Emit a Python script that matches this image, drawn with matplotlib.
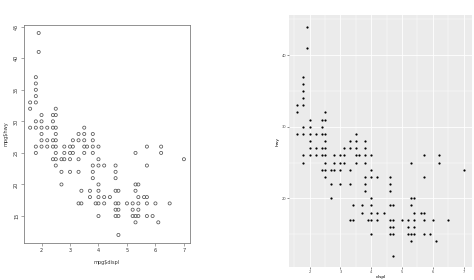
import matplotlib
matplotlib.use("Agg")
import matplotlib.pyplot as plt
from matplotlib.ticker import MultipleLocator

# Unique (displ, hwy) pairs
displ = [1.6, 1.6, 1.6,
         1.8, 1.8, 1.8, 1.8, 1.8, 1.8, 1.8, 1.8, 1.8,
         1.9, 1.9,
         2.0, 2.0, 2.0, 2.0, 2.0, 2.0,
         2.2, 2.2, 2.2,
         2.4, 2.4, 2.4, 2.4, 2.4, 2.4,
         2.5, 2.5, 2.5, 2.5, 2.5, 2.5, 2.5, 2.5, 2.5,
         2.7, 2.7, 2.7,
         2.8, 2.8, 2.8,
         3.0, 3.0, 3.0, 3.0,
         3.1, 3.1, 3.1,
         3.3, 3.3, 3.3, 3.3, 3.3,
         3.4, 3.4,
         3.5, 3.5, 3.5, 3.5, 3.5,
         3.6,
         3.7, 3.7,
         3.8, 3.8, 3.8, 3.8, 3.8, 3.8, 3.8,
         3.9,
         4.0, 4.0, 4.0, 4.0, 4.0, 4.0, 4.0, 4.0,
         4.2, 4.2, 4.2,
         4.4,
         4.6, 4.6, 4.6, 4.6, 4.6, 4.6, 4.6,
         4.7, 4.7, 4.7, 4.7, 4.7,
         5.0,
         5.2, 5.2, 5.2,
         5.3, 5.3, 5.3, 5.3, 5.3,
         5.4, 5.4, 5.4, 5.4, 5.4,
         5.6,
         5.7, 5.7, 5.7, 5.7, 5.7,
         5.9,
         6.0,
         6.1,
         6.2, 6.2,
         6.5,
         7.0]
hwy = [33, 32, 29,
       37, 36, 35, 34, 33, 30, 29, 26, 25,
       44, 41,
       31, 30, 29, 28, 27, 26,
       29, 27, 26,
       31, 30, 29, 27, 26, 24,
       32, 31, 29, 28, 27, 26, 25, 24, 23,
       24, 22, 20,
       26, 25, 24,
       26, 25, 24, 22,
       27, 26, 25,
       28, 27, 24, 22, 17,
       19, 17,
       29, 28, 27, 26, 25,
       26,
       19, 18,
       28, 27, 26, 25, 23, 22, 21,
       17,
       26, 24, 23, 20, 19, 18, 17, 15,
       23, 18, 17,
       18,
       23, 22, 21, 19, 17, 16, 15,
       19, 17, 16, 15, 12,
       17,
       17, 16, 15,
       25, 20, 19, 15, 14,
       20, 18, 17, 16, 15,
       18,
       26, 23, 18, 17, 15,
       15,
       17,
       14,
       26, 25,
       17,
       24]

x_ticks = [2, 3, 4, 5, 6, 7]
left_y_ticks = [15, 20, 25, 30, 35, 40, 45]
right_y_ticks = [20, 30, 40]

fig = plt.figure(figsize=(4.74, 2.80), dpi=100)
fig.patch.set_facecolor("white")

# ---- Left panel: base-R style ----
ax1 = fig.add_axes([0.0506, 0.132, 0.3504, 0.779])
ax1.scatter(displ, hwy, s=5, facecolors="none", edgecolors="#555555", linewidths=0.55)
ax1.set_xlim(1.384, 7.216)
ax1.set_ylim(10.72, 45.28)
ax1.set_xticks(x_ticks)
ax1.set_yticks(left_y_ticks)
for s in ax1.spines.values():
    s.set_color("#808080")
    s.set_linewidth(0.6)
ax1.tick_params(axis="both", direction="out", length=2, width=0.5, color="#808080",
                labelsize=3.6, labelcolor="#333333", pad=1.5)
for lab in ax1.get_yticklabels():
    lab.set_rotation(90)
    lab.set_va("center")
ax1.set_xlabel(r"mpg\$displ", fontsize=3.6, color="#333333", labelpad=5)
ax1.set_ylabel(r"mpg\$hwy", fontsize=3.6, color="#333333", labelpad=4)

# ---- Right panel: ggplot2 style ----
ax2 = fig.add_axes([0.6097, 0.0464, 0.3861, 0.8996])
ax2.set_facecolor("#EBEBEB")
ax2.set_xlim(1.33, 7.27)
ax2.set_ylim(10.4, 45.6)
ax2.set_xticks(x_ticks)
ax2.set_yticks(right_y_ticks)
ax2.xaxis.set_minor_locator(MultipleLocator(0.5))
ax2.yaxis.set_minor_locator(MultipleLocator(5))
ax2.grid(which="major", color="white", linewidth=0.6)
ax2.grid(which="minor", color="white", linewidth=0.3)
ax2.set_axisbelow(True)
for s in ax2.spines.values():
    s.set_visible(False)
ax2.tick_params(axis="both", which="major", direction="out", length=1.2, width=0.4,
                color="#333333", labelsize=2.6, labelcolor="#4D4D4D", pad=0.8)
ax2.tick_params(axis="both", which="minor", length=0)
ax2.scatter(displ, hwy, s=2.5, color="black", linewidths=0, zorder=3)
ax2.set_xlabel("displ", fontsize=3.2, color="black", labelpad=0.6)
ax2.set_ylabel("hwy", fontsize=3.2, color="black", labelpad=1.5)

fig.savefig("out.png", dpi=100)
